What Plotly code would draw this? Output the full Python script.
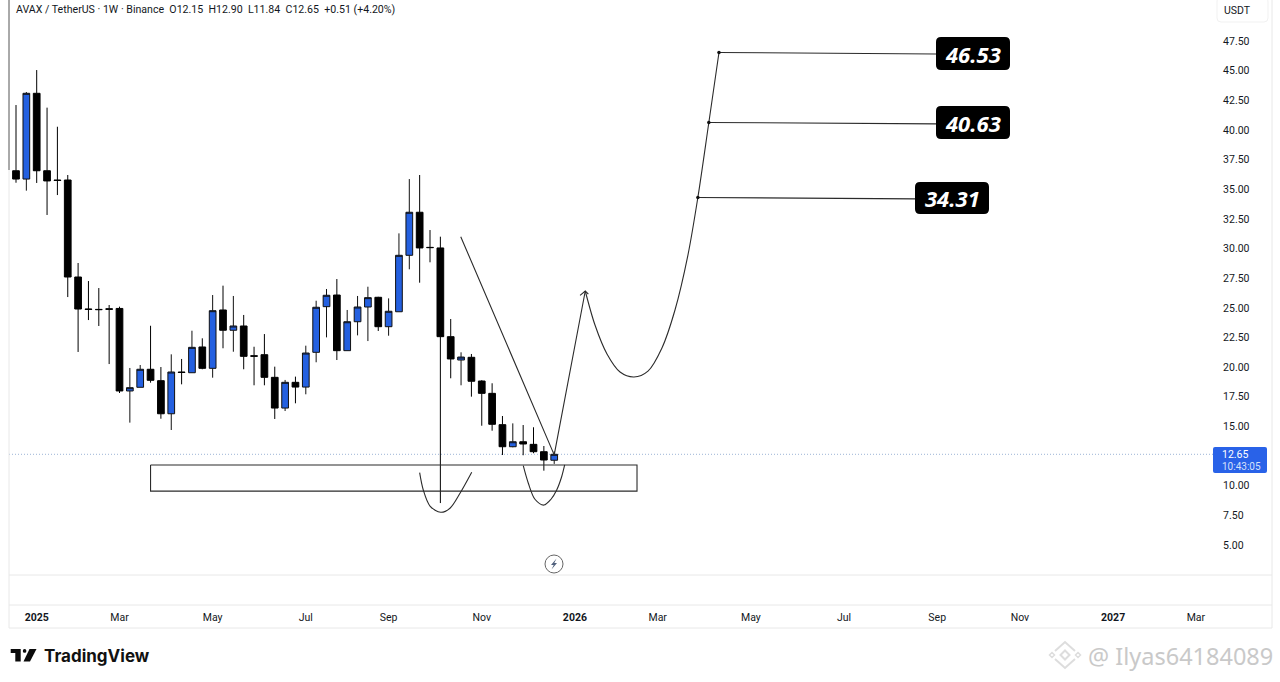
import pandas as pd
import plotly.graph_objects as go

#Weekly candles, week 0 is the first week of January 2025
weeks = list(range(-2, 51))
opens = [36.56, 35.86, 43.09, 36.56, 35.78, 35.78, 27.60, 24.90, 24.87, 24.92, 24.95, 17.99, 18.30, 19.82, 18.86, 16.07, 19.59, 19.53, 21.70, 19.90, 24.82, 23.11, 23.47, 20.96, 21.05, 19.14, 16.55, 18.72, 18.32, 21.25, 25.10, 26.08, 21.39, 23.83, 25.07, 25.89, 23.41, 24.67, 29.43, 33.06, 30.10, 30.05, 22.57, 20.60, 20.83, 18.83, 17.79, 15.15, 13.29, 13.71, 13.49, 12.87, 12.15]
highs = [42.10, 43.20, 45.05, 41.88, 40.27, 36.20, 28.78, 27.26, 26.67, 25.24, 25.10, 19.93, 20.18, 23.49, 20.01, 21.08, 20.69, 23.07, 22.43, 26.08, 26.87, 26.00, 24.40, 21.72, 22.79, 20.04, 18.92, 19.20, 21.81, 25.60, 26.59, 27.43, 24.82, 26.00, 26.78, 25.93, 25.80, 31.28, 35.86, 36.20, 31.56, 31.00, 24.06, 21.25, 21.11, 18.90, 18.64, 15.88, 15.26, 15.12, 14.93, 13.35, 12.90]
lows = [35.55, 34.88, 35.53, 32.83, 34.51, 25.91, 21.28, 23.97, 23.47, 20.26, 17.82, 15.32, 18.30, 18.69, 15.65, 14.70, 18.55, 19.53, 19.82, 19.11, 21.59, 21.30, 19.82, 18.47, 18.47, 15.63, 16.30, 16.95, 17.71, 20.41, 22.51, 20.60, 21.39, 22.68, 22.20, 23.05, 22.65, 24.67, 28.25, 27.12, 28.84, 8.54, 19.06, 18.47, 17.51, 15.06, 14.64, 12.59, 13.24, 12.57, 12.74, 11.27, 11.84]
closes = [35.86, 43.09, 36.56, 35.70, 35.74, 27.60, 24.90, 24.87, 24.85, 24.88, 17.99, 18.27, 19.82, 18.89, 16.07, 19.59, 19.55, 21.67, 19.90, 24.76, 23.11, 23.47, 20.91, 20.92, 19.14, 16.55, 18.72, 18.32, 21.19, 25.05, 26.06, 21.39, 23.83, 25.07, 25.86, 23.41, 24.71, 29.43, 33.06, 30.05, 30.08, 22.57, 20.69, 20.85, 18.81, 17.79, 15.18, 13.29, 13.71, 13.52, 12.87, 12.17, 12.65]

#Axis labels
price_ticks = [5.0, 7.5, 10.0, 15.0, 17.5, 20.0, 22.5, 25.0, 27.5, 30.0, 32.5, 35.0, 37.5, 40.0, 42.5, 45.0, 47.5]
month_weeks = [0, 8, 17, 26, 34, 43, 52, 60, 69, 78, 87, 95, 104, 112]
month_labels = ["<b>2025</b>", "Mar", "May", "Jul", "Sep", "Nov", "<b>2026</b>", "Mar", "May", "Jul", "Sep", "Nov", "<b>2027</b>", "Mar"]
last_price = 12.65

#Hand drawn lines on the chart
zone_weeks = [11.0, 58.0, 58.0, 11.0, 11.0]
zone_prices = [11.75, 11.75, 9.55, 9.55, 11.75]
arrow_weeks = [40.97, 50.0, 53.0]
arrow_prices = [31.0, 12.60, 26.42]
head_weeks = [52.5, 53.0, 53.3]
head_prices = [26.05, 26.42, 26.15]
path_weeks = [53.0, 53.94, 55.10, 56.36, 57.71, 59.06, 60.41, 61.67, 62.92, 63.88, 64.94, 65.92]
path_prices = [26.42, 23.55, 21.11, 19.59, 19.17, 19.67, 21.62, 24.82, 29.45, 34.31, 40.63, 46.53]
left_cup_weeks = [37.0, 37.35, 38.0, 39.03, 39.93, 40.9, 42.03]
left_cup_prices = [11.10, 9.64, 8.29, 7.76, 8.10, 9.36, 11.13]
right_cup_weeks = [47.01, 47.50, 48.14, 49.01, 49.69, 50.24, 50.72, 51.01]
right_cup_prices = [11.69, 10.21, 8.86, 8.37, 8.86, 9.64, 10.76, 11.75]
target_prices = [34.31, 40.63, 46.53]
target_starts = [63.88, 64.94, 65.92]
target_ends = [84.95, 86.9, 86.9]

W, H = 1280, 682
FONT = "Roboto"
LINE = "#2b2b2b"
BORDER = "#e8e8e8"


#Pixel position in the picture to paper coordinates
def px(x):
	return x / W


def py(y):
	return 1 - y / H


#Rounded rectangle given in picture pixels
def round_box(x0, y0, x1, y1, r, fill, line="rgba(0,0,0,0)"):
	path = "M %f %f L %f %f Q %f %f %f %f L %f %f Q %f %f %f %f L %f %f Q %f %f %f %f L %f %f Q %f %f %f %f Z" % (
		px(x0 + r), py(y0), px(x1 - r), py(y0), px(x1), py(y0), px(x1), py(y0 + r),
		px(x1), py(y1 - r), px(x1), py(y1), px(x1 - r), py(y1),
		px(x0 + r), py(y1), px(x0), py(y1), px(x0), py(y1 - r),
		px(x0), py(y0 + r), px(x0), py(y0), px(x0 + r), py(y0))
	return dict(type="path", xref="paper", yref="paper", path=path, fillcolor=fill, line=dict(color=line, width=1), layer="above")


#Polygon or polyline given in picture pixels
def poly(points, fill=None, line=None, width=1, close=True):
	path = "M " + " L ".join("%f %f" % (px(x), py(y)) for x, y in points)
	if close:
		path += " Z"
	return dict(type="path", xref="paper", yref="paper", path=path, fillcolor=fill or "rgba(0,0,0,0)", line=dict(color=line or "rgba(0,0,0,0)", width=width), layer="above")


def hline(y, x0, x1, color=BORDER):
	return dict(type="line", xref="paper", yref="paper", x0=px(x0), x1=px(x1), y0=py(y), y1=py(y), line=dict(color=color, width=1), layer="above")


def vline(x, y0, y1, color=BORDER):
	return dict(type="line", xref="paper", yref="paper", x0=px(x), x1=px(x), y0=py(y0), y1=py(y1), line=dict(color=color, width=1), layer="above")


def text(x, y, s, size=11, color="#131722", anchor="left", family=FONT):
	return dict(xref="paper", yref="paper", x=px(x), y=py(y), text=s, showarrow=False, xanchor=anchor, yanchor="middle", font=dict(family=family, size=size, color=color), borderpad=0)


fig = go.Figure()

fig.add_trace(go.Candlestick(x=weeks, open=opens, high=highs, low=lows, close=closes,
	increasing=dict(line=dict(color="#111111", width=1), fillcolor="#2460e0"),
	decreasing=dict(line=dict(color="#000000", width=1), fillcolor="#000000"),
	whiskerwidth=0, hoverinfo="skip"))


def add_line(xs, ys, spline=False):
	fig.add_trace(go.Scatter(x=xs, y=ys, mode="lines", hoverinfo="skip",
		line=dict(color=LINE, width=1.1, shape="spline" if spline else "linear", smoothing=0.9)))


add_line(zone_weeks, zone_prices)
add_line(arrow_weeks, arrow_prices)
add_line(head_weeks, head_prices)
add_line(path_weeks, path_prices, spline=True)
add_line(left_cup_weeks, left_cup_prices, spline=True)
add_line(right_cup_weeks, right_cup_prices, spline=True)
for i in range(len(target_prices)):
	add_line([target_starts[i], target_ends[i]], [target_prices[i], target_prices[i] - 0.12])
fig.add_trace(go.Scatter(x=target_starts, y=target_prices, mode="markers", hoverinfo="skip", marker=dict(color="#111111", size=3.5)))

shapes = [
	#Last price line
	dict(type="line", xref="paper", yref="y", x0=px(9), x1=px(1214), y0=last_price, y1=last_price, line=dict(color="#9db4d6", width=1, dash="1px,2px"), layer="below"),
	#Panel borders
	hline(575, 9, 1272),
	hline(605, 9, 1272),
	hline(628, 9, 1272),
	vline(9, 170, 628),
	vline(9, 0, 170, "#555555"),
	vline(1272, 0, 628),
	round_box(1217, -2, 1268, 22, 4, "rgba(0,0,0,0)", "#f1f1f1"),
	#Price tag
	round_box(1213, 447, 1267, 473, 2, "#2962e8"),
	#Targets
	round_box(936, 37, 1010, 70, 5, "#000000"),
	round_box(936, 106, 1010, 139, 5, "#000000"),
	round_box(915, 182, 989, 214, 5, "#000000"),
	#Lightning badge
	dict(type="circle", xref="paper", yref="paper", x0=px(545), x1=px(563), y0=py(555), y1=py(573), line=dict(color="#666666", width=1), fillcolor="#ffffff", layer="above"),
	poly([(556.5, 558.5), (551, 565), (553.7, 565), (551.5, 569.5), (557, 563), (554.3, 563)], fill="#51617d"),
	#TradingView logo
	poly([(10.7, 649), (20.7, 649), (20.7, 661.5), (15.3, 661.5), (15.3, 653), (10.7, 653)], fill="#0b0b0b"),
	dict(type="circle", xref="paper", yref="paper", x0=px(22.8), x1=px(26.4), y0=py(649), y1=py(652.8), line=dict(width=0), fillcolor="#0b0b0b", layer="above"),
	poly([(29.5, 649), (36.5, 649), (30, 661.5), (23.5, 661.5)], fill="#0b0b0b"),
	#Watermark diamond
	poly([(1055, 651), (1065, 642), (1075, 651)], line="#dddddd", width=2, close=False),
	poly([(1055, 659), (1065, 668), (1075, 659)], line="#dddddd", width=2, close=False),
	poly([(1065, 650.5), (1069.5, 655), (1065, 659.5), (1060.5, 655)], line="#dddddd", width=2),
	poly([(1052, 652.5), (1054.5, 655), (1052, 657.5), (1049.5, 655)], line="#dddddd", width=1.5),
	poly([(1078, 652.5), (1080.5, 655), (1078, 657.5), (1075.5, 655)], line="#dddddd", width=1.5),
]

annotations = [
	text(15, 10, "AVAX / TetherUS · 1W · Binance  O12.15  H12.90  L11.84  C12.65  +0.51 (+4.20%)", size=10.6),
	text(1237, 11, "USDT", size=10.5, anchor="center"),
	text(1221, 454, "12.65", size=10.5, color="#ffffff"),
	text(1221, 466.5, "10:43:05", size=10, color="#d5e0fb"),
	text(973, 53.5, "<b><i>46.53</i></b>", size=22, color="#ffffff", anchor="center", family="Open Sans"),
	text(973, 123, "<b><i>40.63</i></b>", size=22, color="#ffffff", anchor="center", family="Open Sans"),
	text(952, 198, "<b><i>34.31</i></b>", size=22, color="#ffffff", anchor="center", family="Open Sans"),
	text(43, 655.5, "<b>TradingView</b>", size=17, color="#111111", family="Inter"),
	text(1087, 656, "@ Ilyas64184089", size=23.5, color="#c9c9c9", family="Noto Sans"),
]

fig.update_layout(
	width=W, height=H, margin=dict(l=0, r=0, t=0, b=0),
	paper_bgcolor="#ffffff", plot_bgcolor="#ffffff",
	showlegend=False, shapes=shapes, annotations=annotations, boxgap=0.1, boxgroupgap=0.28,
	font=dict(family=FONT, size=11, color="#131722"),
	xaxis=dict(domain=[px(9), px(1216)], range=[-2.676, 113.94], tickmode="array", tickvals=month_weeks, ticktext=month_labels,
		showgrid=False, zeroline=False, showline=False, ticks="outside", ticklen=2, tickcolor="rgba(0,0,0,0)", rangeslider=dict(visible=False), tickfont=dict(size=10.5)),
	yaxis=dict(domain=[py(605), 1], range=[-0.056, 50.957], side="right", anchor="x", tickmode="array", tickvals=price_ticks,
		tickformat=".2f", showgrid=False, zeroline=False, showline=False, ticks="outside", ticklen=4, tickcolor="rgba(0,0,0,0)", tickfont=dict(size=10.5)),
)

#Page margin would push the chart off its place
fig.write_html("out.html", config=dict(displayModeBar=False), post_script="document.body.style.margin='0';")
